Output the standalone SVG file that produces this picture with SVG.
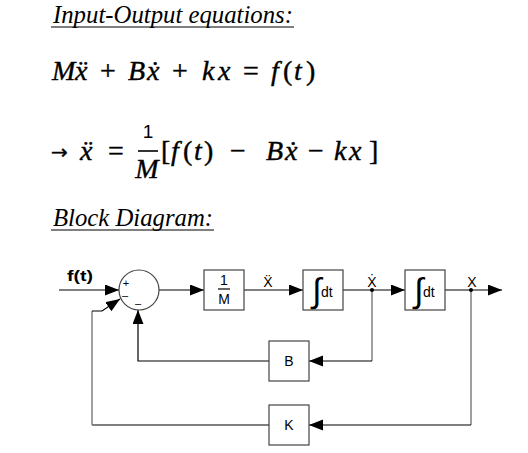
<svg xmlns="http://www.w3.org/2000/svg" width="528" height="453" viewBox="0 0 528 453">
<defs>
<style>
.hd{font-family:"Liberation Serif",serif;font-style:italic;font-size:25px;fill:#000}
.m{font-family:"Liberation Serif",serif;font-size:28px;fill:#000;stroke:#000;stroke-width:0.4}
.i{font-style:italic}
.ar{font-family:"DejaVu Sans",sans-serif;font-size:20px}
.bl{font-family:"Liberation Sans",Arial,sans-serif;font-size:14px;fill:#000}
.blb{font-family:"Liberation Sans",Arial,sans-serif;font-size:14px;font-weight:bold;fill:#000}
.sg{font-family:"Liberation Sans",Arial,sans-serif;font-size:11px;fill:#000}
.it{font-family:"Liberation Sans",Arial,sans-serif;font-size:34px;fill:#000}
.box{fill:#fff;stroke:#444;stroke-width:1.2}
.ln{fill:none;stroke:#000;stroke-width:1.2}
.gl{fill:none;stroke:#808080;stroke-width:1.5}
</style>
<marker id="ah" markerUnits="userSpaceOnUse" markerWidth="15" markerHeight="12" refX="14" refY="5.5" orient="auto" viewBox="0 0 15 12">
<path d="M0,0 L14,5.5 L0,11 z" fill="#000"/>
</marker>
</defs>
<rect width="528" height="453" fill="#fff"/>

<g id="headings">
<text class="hd" x="53" y="23" textLength="240" lengthAdjust="spacingAndGlyphs">Input-Output equations:</text>
<line x1="51" y1="27" x2="294" y2="27" stroke="#000" stroke-width="1.2"/>
<text class="hd" x="53" y="226" textLength="160" lengthAdjust="spacingAndGlyphs">Block Diagram:</text>
<line x1="51" y1="230" x2="214" y2="230" stroke="#000" stroke-width="1.2"/>
</g>

<g id="equation1">
<text class="m" y="80"><tspan class="i" x="52">M</tspan><tspan class="i" x="75">ẍ</tspan><tspan x="100">+</tspan><tspan class="i" x="128">B</tspan><tspan class="i" x="147">ẋ</tspan><tspan x="172">+</tspan><tspan class="i" x="202">k</tspan><tspan class="i" x="218">x</tspan><tspan x="243">=</tspan><tspan class="i" x="271">f</tspan><tspan x="283">(</tspan><tspan class="i" x="294">t</tspan><tspan x="306">)</tspan></text>
</g>

<g id="equation2">
<text class="m" y="160"><tspan class="ar" x="51" y="159">→</tspan><tspan class="i" x="80" y="160">ẍ</tspan><tspan x="108">=</tspan></text>
<text x="148" y="138" text-anchor="middle" font-family="Liberation Sans,Arial,sans-serif" font-size="19" fill="#000">1</text>
<line x1="138" y1="151" x2="158" y2="151" stroke="#000" stroke-width="1.6"/>
<text class="m i" x="147" y="178" text-anchor="middle" font-size="19">M</text>
<text class="m" y="160"><tspan x="161">[</tspan><tspan class="i" x="171">f</tspan><tspan x="183">(</tspan><tspan class="i" x="194">t</tspan><tspan x="204">)</tspan><tspan x="230">−</tspan><tspan class="i" x="266">B</tspan><tspan class="i" x="285">ẋ</tspan><tspan x="308">−</tspan><tspan class="i" x="334">k</tspan><tspan class="i" x="349">x</tspan><tspan x="369">]</tspan></text>
</g>

<g id="connectors">
<line class="ln" x1="59" y1="290" x2="119" y2="290" marker-end="url(#ah)"/>
<line class="ln" x1="159" y1="290" x2="204" y2="290" marker-end="url(#ah)"/>
<line class="ln" x1="244" y1="290" x2="303" y2="290" marker-end="url(#ah)"/>
<line class="ln" x1="343" y1="290" x2="405" y2="290" marker-end="url(#ah)"/>
<line class="ln" x1="445" y1="290" x2="502" y2="290" marker-end="url(#ah)"/>
<polyline class="gl" points="372,290 372,361"/>
<line class="ln" x1="372" y1="361" x2="309" y2="361" marker-end="url(#ah)"/>
<polyline class="ln" points="269,361 138,361 138,310" marker-end="url(#ah)"/>
<polyline class="gl" points="471,290 471,425"/>
<line class="ln" x1="471" y1="425" x2="309" y2="425" marker-end="url(#ah)"/>
<line class="ln" x1="269" y1="425" x2="92" y2="425"/>
<polyline class="gl" points="92,425 92,311"/>
<polyline class="ln" points="92,311 102,311 120,299" marker-end="url(#ah)"/>
<circle cx="372" cy="290" r="2" fill="#000"/>
<circle cx="471" cy="290" r="2" fill="#000"/>
<text class="blb" x="80" y="281" text-anchor="middle" textLength="26" lengthAdjust="spacingAndGlyphs">f(t)</text>
<text class="bl" x="268" y="287" text-anchor="middle">Ẍ</text>
<text class="bl" x="372" y="287" text-anchor="middle">Ẋ</text>
<text class="bl" x="472" y="287" text-anchor="middle">X</text>
</g>

<g id="sum">
<circle cx="139" cy="290" r="20" fill="#fff" stroke="#444" stroke-width="1.2"/>
<text class="sg" x="126" y="287" text-anchor="middle">+</text>
<text class="sg" x="125" y="299" text-anchor="middle">–</text>
<text class="sg" x="138" y="307" text-anchor="middle">–</text>
</g>

<g id="gain-1-over-M">
<rect class="box" x="204" y="270" width="40" height="40"/>
<text class="bl" x="224" y="285" text-anchor="middle" font-size="13">1</text>
<line x1="218" y1="289" x2="230" y2="289" stroke="#000" stroke-width="1.2"/>
<text class="bl" x="224" y="304" text-anchor="middle" font-size="13">M</text>
</g>

<g id="integrator1">
<rect class="box" x="303" y="270" width="40" height="40"/>
<text class="it" x="317" y="302" text-anchor="middle">∫</text>
<text class="bl" x="321" y="297">dt</text>
</g>

<g id="integrator2">
<rect class="box" x="405" y="270" width="40" height="40"/>
<text class="it" x="419" y="302" text-anchor="middle">∫</text>
<text class="bl" x="423" y="297">dt</text>
</g>

<g id="gain-B">
<rect class="box" x="269" y="341" width="40" height="40"/>
<text class="bl" x="289" y="366" text-anchor="middle">B</text>
</g>

<g id="gain-K">
<rect class="box" x="269" y="405" width="40" height="40"/>
<text class="bl" x="289" y="430" text-anchor="middle">K</text>
</g>
</svg>
